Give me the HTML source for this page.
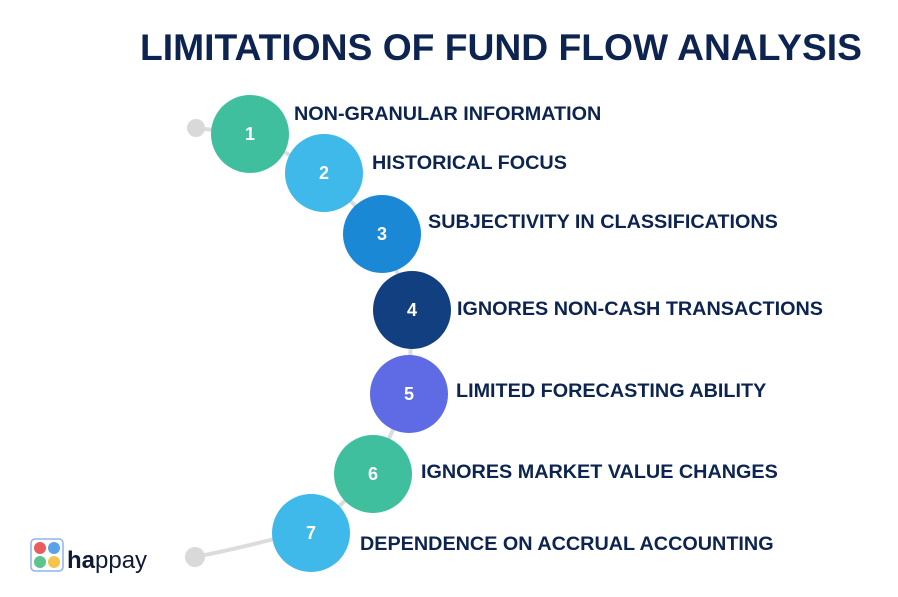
<!DOCTYPE html>
<html><head><meta charset="utf-8"><style>
body{margin:0;background:#fff;}
svg{display:block}
text{font-family:"Liberation Sans",sans-serif;font-weight:bold;}
</style></head><body>
<svg width="898" height="597" viewBox="0 0 898 597">
<text x="501" y="60" text-anchor="middle" font-size="37" fill="#0d2451" textLength="722" lengthAdjust="spacingAndGlyphs">LIMITATIONS OF FUND FLOW ANALYSIS</text>
<path d="M196,128 L250,134 L324,173 L382,234 L412,310 L409,394 L373,474 L311,533" fill="none" stroke="#dcdcdc" stroke-width="4"/>
<path d="M195,557 Q240,548 290,535" fill="none" stroke="#dcdcdc" stroke-width="4"/>
<circle cx="196" cy="128" r="9" fill="#d9d9d9"/>
<circle cx="195" cy="557" r="10" fill="#d9d9d9"/>
<g font-size="18" fill="#fff" text-anchor="middle">
<circle cx="250" cy="134" r="39" fill="#3fbf9d"/><text x="250" y="140">1</text>
<circle cx="324" cy="173" r="39" fill="#3fb8ea"/><text x="324" y="179">2</text>
<circle cx="382" cy="234" r="39" fill="#1b88d6"/><text x="382" y="240">3</text>
<circle cx="412" cy="310" r="39" fill="#123f7f"/><text x="412" y="316">4</text>
<circle cx="409" cy="394" r="39" fill="#5e6be4"/><text x="409" y="400">5</text>
<circle cx="373" cy="474" r="39" fill="#3fbf9d"/><text x="373" y="480">6</text>
<circle cx="311" cy="533" r="39" fill="#3fb8ea"/><text x="311" y="539">7</text>
</g>
<g font-size="19.8" fill="#0d2451">
<text x="294" y="120">NON-GRANULAR INFORMATION</text>
<text x="372" y="169">HISTORICAL FOCUS</text>
<text x="428" y="228">SUBJECTIVITY IN CLASSIFICATIONS</text>
<text x="457" y="315">IGNORES NON-CASH TRANSACTIONS</text>
<text x="456" y="397">LIMITED FORECASTING ABILITY</text>
<text x="421" y="478">IGNORES MARKET VALUE CHANGES</text>
<text x="360" y="550">DEPENDENCE ON ACCRUAL ACCOUNTING</text>
</g>
<rect x="31" y="539" width="32" height="32" rx="4" fill="#fff" stroke="#8fb4ee" stroke-width="1.5"/>
<circle cx="40" cy="548" r="6" fill="#e85d5d"/>
<circle cx="54" cy="548" r="6" fill="#5aa2ea"/>
<circle cx="40" cy="562" r="6" fill="#5cc48c"/>
<circle cx="54" cy="562" r="6" fill="#f6c44e"/>
<text x="67" y="568" font-size="24" fill="#0d1b33">ha<tspan font-weight="normal">ppay</tspan></text>
</svg>
</body></html>
